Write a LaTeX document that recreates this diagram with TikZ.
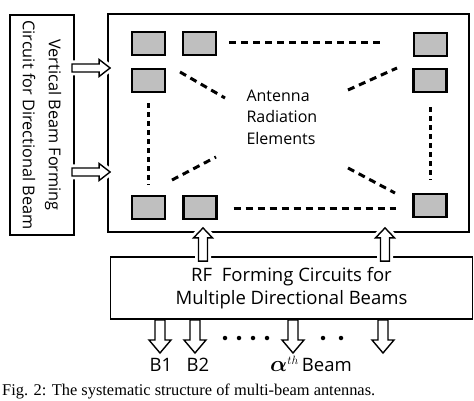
\documentclass[tikz,border=0pt]{standalone}
\usepackage{amsmath}
\usepackage{fontspec}
\setmainfont{Liberation Serif}
\newfontfamily\labelfont{Open Sans}
\usetikzlibrary{calc}

\newcommand{\shafthalf}{4.5pt}
\newcommand{\headhalf}{9.5pt}
\newcommand{\headlen}{10pt}
\newcommand{\hollowarrow}[3][hollow]{%
  \coordinate (ha) at (#2);
  \coordinate (hb) at (#3);
  \coordinate (hc) at ($(hb)!\headlen!(ha)$);
  \draw[#1] ($(ha)!\shafthalf!90:(hb)$) -- ($(hc)!\shafthalf!90:(hb)$) -- ($(hc)!\headhalf!90:(hb)$) -- (hb)
    -- ($(hc)!\headhalf!-90:(hb)$) -- ($(hc)!\shafthalf!-90:(hb)$) -- ($(ha)!\shafthalf!-90:(hb)$) -- cycle;}

\begin{document}
\begin{tikzpicture}[x=1pt, y=-1pt,
    box/.style={draw, line width=1.8pt},
    elem/.style={draw, line width=2.2pt, fill=black!25, minimum width=33pt, minimum height=23pt, inner sep=0pt},
    dashline/.style={line width=3pt, dash pattern=on 7pt off 5pt},
    dotline/.style={line width=3pt, dash pattern=on 5pt off 4pt},
    hollowplain/.style={draw, line width=1.4pt, fill=white, line join=miter},
    hollow/.style={hollowplain, preaction={draw=white, line width=7pt}},
    beamdot/.style={circle, fill=black, minimum size=4.5pt, inner sep=0pt},
    lbl/.style={font=\labelfont\fontsize{18.5}{22}\selectfont}]
\useasboundingbox (0,0) rectangle (474,401);

\node[box, rotate=-90, minimum width=220pt, minimum height=64pt, inner sep=0pt, align=center,
  font=\labelfont\fontsize{16.3}{26}\selectfont] (vbf) at (42,125) {Vertical Beam Forming\\Circuit for Directional Beam};
\node[box, minimum width=361pt, minimum height=218pt] (main) at (288.5,123) {};
\node[anchor=west, align=left, font=\labelfont\fontsize{16}{21.5}\selectfont] (ant) at (243,117) {Antenna\\Radiation\\Elements};
\node[box, minimum width=362pt, minimum height=62pt, align=center,
  font=\labelfont\fontsize{18.5}{23.5}\selectfont] (rf) at (291.5,288) {RF\ \ Forming Circuits for\\Multiple Directional Beams};

\node[elem] (e1) at (148.5,43.5) {};
\node[elem] (e2) at (199.5,43.5) {};
\node[elem] (e3) at (148.5,80.5) {};
\node[elem] (e4) at (148.5,207.5) {};
\node[elem] (e5) at (200,207.5) {};
\node[elem] (e6) at (430.5,44.5) {};
\node[elem] (e7) at (430,80.5) {};
\node[elem] (e8) at (430,205.5) {};

\draw[dashline, shorten <=12pt, shorten >=28pt] (e2.east |- 0,43) -- (e6.west |- 0,43);
\draw[dashline, shorten <=16pt, shorten >=16pt] (e5.east |- 0,208) -- (e8.west |- 0,208);
\draw[dotline, shorten <=10pt, shorten >=10pt] (e3.south) -- (e4.north);
\draw[dotline, shorten <=14pt, shorten >=13pt] (e7.south) -- (e8.north);
\draw[dashline] (180,72) -- (225,98);
\draw[dashline] (172,180) -- (216,157);
\draw[dashline] (348,90) -- (397,68);
\draw[dashline] (348,168) -- (395,193);

\renewcommand{\shafthalf}{4pt}
\renewcommand{\headhalf}{8.5pt}
\renewcommand{\headlen}{11pt}
\hollowarrow{72,68}{$(main.west |- 0,68)+(3,0)$}
\hollowarrow{72,172}{$(main.west |- 0,172)+(3,0)$}
\renewcommand{\shafthalf}{4.5pt}
\renewcommand{\headhalf}{9.5pt}
\renewcommand{\headlen}{10pt}
\hollowarrow{$(rf.north -| 203,0)+(0,5)$}{$(main.south -| 203,0)+(0,-5)$}
\hollowarrow{$(rf.north -| 385,0)+(0,5)$}{$(main.south -| 385,0)+(0,-5)$}
\renewcommand{\shafthalf}{5pt}
\renewcommand{\headhalf}{11pt}
\renewcommand{\headlen}{13pt}
\foreach \x in {160,195,293,383}
  \hollowarrow[hollowplain]{rf.south -| \x,0}{\x,353};

\foreach \x [count=\i] in {225,239,253,267,323,341}
  \node[beamdot] (d\i) at (\x,338) {};

\node[lbl] (b1) at (161,365) {B1};
\node[lbl] (b2) at (198,365) {B2};
\node[lbl] (ba) at (311,364) {\scalebox{1.3}{$\boldsymbol{\alpha}$}$^{th}$\,Beam};

\node[anchor=base west, inner sep=0pt, font=\fontsize{16.4}{19}\selectfont] (cap) at (2,395) {Fig. 2: The systematic structure of multi-beam antennas.};
\end{tikzpicture}
\end{document}
